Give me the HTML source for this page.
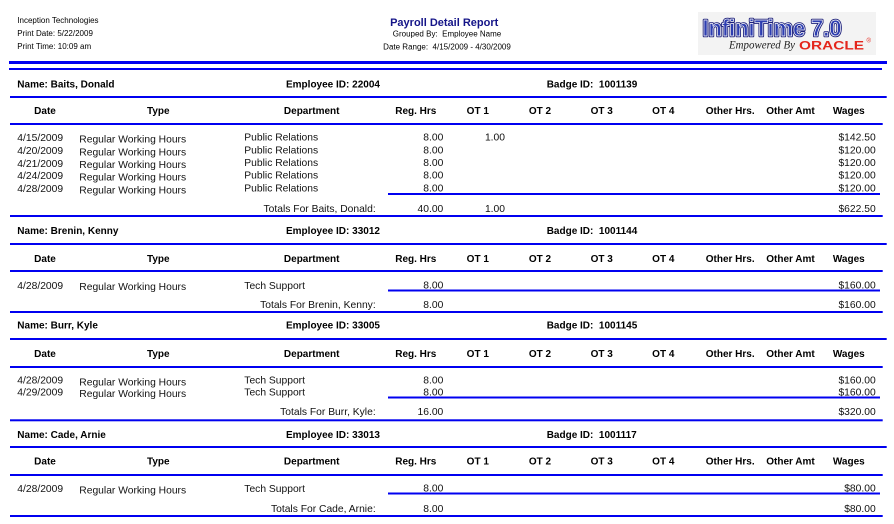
<!DOCTYPE html>
<html>
<head>
<meta charset="utf-8">
<style>
html,body{margin:0;padding:0;background:#fff;}
svg{display:block;}
text{white-space:pre;font-family:"Liberation Sans",Arial,sans-serif;fill:#000;}
.s{font-size:8px;}
.b{font-weight:bold;font-size:10px;}
.d{font-size:10.3px;fill:#111;}
.r{text-anchor:end;}
.c{text-anchor:middle;}
</style>
</head>
<body>
<svg width="894" height="524" viewBox="0 0 894 524" xmlns="http://www.w3.org/2000/svg">
<rect x="0" y="0" width="894" height="524" fill="#fff"/>

<!-- Header left -->
<text class="s" x="17.3" y="23">Inception Technologies</text>
<text class="s" x="17.3" y="36">Print Date: 5/22/2009</text>
<text class="s" x="17.3" y="49">Print Time: 10:09 am</text>

<!-- Header center -->
<text x="444.2" y="26" style="font-size:11px;font-weight:bold;fill:#141488;text-anchor:middle;">Payroll Detail Report</text>
<text class="s c" x="447" y="36.5">Grouped By:  Employee Name</text>
<text class="s c" x="447" y="49.5">Date Range:  4/15/2009 - 4/30/2009</text>

<!-- Logo -->
<rect x="698" y="12" width="178" height="43" fill="#f3f3f3"/>
<text x="702.5" y="36" textLength="139" lengthAdjust="spacingAndGlyphs" style="font-size:23px;font-weight:bold;fill:#1c1f7a;stroke:#1c1f7a;stroke-width:2.6;stroke-linejoin:round;">InfiniTime 7.0</text>
<text x="702.5" y="36" textLength="139" lengthAdjust="spacingAndGlyphs" style="font-size:23px;font-weight:bold;fill:#2d3db0;stroke:#ffffff;stroke-width:0.7;stroke-linejoin:round;">InfiniTime 7.0</text>
<text x="729" y="48.5" textLength="66" lengthAdjust="spacingAndGlyphs" style="font-family:'Liberation Serif',serif;font-style:italic;font-size:11.5px;fill:#222;">Empowered By</text>
<text x="799" y="49.5" textLength="65" lengthAdjust="spacingAndGlyphs" style="font-size:12px;font-weight:bold;fill:#e4261c;">ORACLE</text>
<text x="866.5" y="42.5" style="font-size:6px;fill:#e4261c;">®</text>

<!-- Top double line -->
<rect x="9" y="61" width="878" height="3" fill="#0000f0"/>
<rect x="9" y="68" width="873" height="2" fill="#0000f0"/>

<!-- ===== Baits ===== -->
<text class="b" x="17.3" y="87.3">Name: Baits, Donald</text>
<text class="b" x="286" y="87.3">Employee ID: 22004</text>
<text class="b" x="546.7" y="87.3">Badge ID:  1001139</text>
<rect x="10" y="96" width="876.7" height="2" fill="#0000f0"/>

<text class="b c" x="45" y="114">Date</text>
<text class="b c" x="158.3" y="114">Type</text>
<text class="b c" x="311.7" y="114">Department</text>
<text class="b c" x="415.8" y="114">Reg. Hrs</text>
<text class="b c" x="477.8" y="114">OT 1</text>
<text class="b c" x="540" y="114">OT 2</text>
<text class="b c" x="601.7" y="114">OT 3</text>
<text class="b c" x="663.3" y="114">OT 4</text>
<text class="b c" x="730.2" y="114">Other Hrs.</text>
<text class="b c" x="790.5" y="114">Other Amt</text>
<text class="b c" x="848.8" y="114">Wages</text>
<rect x="10" y="123" width="872.7" height="2" fill="#0000f0"/>

<text class="d" x="17.3" y="141.2">4/15/2009</text>
<text class="d" x="79.3" y="142.5">Regular Working Hours</text>
<text class="d" x="244.3" y="140.6">Public Relations</text>
<text class="d r" x="443.3" y="140.6">8.00</text>
<text class="d r" x="505" y="140.6">1.00</text>
<text class="d r" x="875.7" y="140.6">$142.50</text>

<text class="d" x="17.3" y="154.2">4/20/2009</text>
<text class="d" x="79.3" y="155.5">Regular Working Hours</text>
<text class="d" x="244.3" y="153.6">Public Relations</text>
<text class="d r" x="443.3" y="153.6">8.00</text>
<text class="d r" x="875.7" y="153.6">$120.00</text>

<text class="d" x="17.3" y="166.8">4/21/2009</text>
<text class="d" x="79.3" y="168.1">Regular Working Hours</text>
<text class="d" x="244.3" y="166.2">Public Relations</text>
<text class="d r" x="443.3" y="166.2">8.00</text>
<text class="d r" x="875.7" y="166.2">$120.00</text>

<text class="d" x="17.3" y="179.2">4/24/2009</text>
<text class="d" x="79.3" y="180.5">Regular Working Hours</text>
<text class="d" x="244.3" y="178.6">Public Relations</text>
<text class="d r" x="443.3" y="178.6">8.00</text>
<text class="d r" x="875.7" y="178.6">$120.00</text>

<text class="d" x="17.3" y="192.2">4/28/2009</text>
<text class="d" x="79.3" y="193.5">Regular Working Hours</text>
<text class="d" x="244.3" y="191.6">Public Relations</text>
<text class="d r" x="443.3" y="191.6">8.00</text>
<text class="d r" x="875.7" y="191.6">$120.00</text>
<rect x="388" y="193" width="492" height="2" fill="#0000f0"/>

<text class="d r" x="375.7" y="212.2">Totals For Baits, Donald:</text>
<text class="d r" x="443.3" y="212.2">40.00</text>
<text class="d r" x="505" y="212.2">1.00</text>
<text class="d r" x="875.7" y="212.2">$622.50</text>
<rect x="10" y="215" width="872.7" height="2" fill="#0000f0"/>

<!-- ===== Brenin ===== -->
<text class="b" x="17.3" y="233.9">Name: Brenin, Kenny</text>
<text class="b" x="286" y="233.9">Employee ID: 33012</text>
<text class="b" x="546.7" y="233.9">Badge ID:  1001144</text>
<rect x="10" y="243" width="876.7" height="2" fill="#0000f0"/>

<text class="b c" x="45" y="262">Date</text>
<text class="b c" x="158.3" y="262">Type</text>
<text class="b c" x="311.7" y="262">Department</text>
<text class="b c" x="415.8" y="262">Reg. Hrs</text>
<text class="b c" x="477.8" y="262">OT 1</text>
<text class="b c" x="540" y="262">OT 2</text>
<text class="b c" x="601.7" y="262">OT 3</text>
<text class="b c" x="663.3" y="262">OT 4</text>
<text class="b c" x="730.2" y="262">Other Hrs.</text>
<text class="b c" x="790.5" y="262">Other Amt</text>
<text class="b c" x="848.8" y="262">Wages</text>
<rect x="10" y="270" width="872.7" height="2" fill="#0000f0"/>

<text class="d" x="17.3" y="288.9">4/28/2009</text>
<text class="d" x="79.3" y="290.2">Regular Working Hours</text>
<text class="d" x="244.3" y="288.9">Tech Support</text>
<text class="d r" x="443.3" y="288.6">8.00</text>
<text class="d r" x="875.7" y="288.6">$160.00</text>
<rect x="388" y="289.5" width="492" height="2" fill="#0000f0"/>

<text class="d r" x="375.7" y="308.2">Totals For Brenin, Kenny:</text>
<text class="d r" x="443.3" y="307.8">8.00</text>
<text class="d r" x="875.7" y="307.8">$160.00</text>
<rect x="10" y="311" width="872.7" height="2" fill="#0000f0"/>

<!-- ===== Burr ===== -->
<text class="b" x="17.3" y="328.6">Name: Burr, Kyle</text>
<text class="b" x="286" y="328.6">Employee ID: 33005</text>
<text class="b" x="546.7" y="328.6">Badge ID:  1001145</text>
<rect x="10" y="338" width="876.7" height="2" fill="#0000f0"/>

<text class="b c" x="45" y="357">Date</text>
<text class="b c" x="158.3" y="357">Type</text>
<text class="b c" x="311.7" y="357">Department</text>
<text class="b c" x="415.8" y="357">Reg. Hrs</text>
<text class="b c" x="477.8" y="357">OT 1</text>
<text class="b c" x="540" y="357">OT 2</text>
<text class="b c" x="601.7" y="357">OT 3</text>
<text class="b c" x="663.3" y="357">OT 4</text>
<text class="b c" x="730.2" y="357">Other Hrs.</text>
<text class="b c" x="790.5" y="357">Other Amt</text>
<text class="b c" x="848.8" y="357">Wages</text>
<rect x="10" y="366" width="872.7" height="2" fill="#0000f0"/>

<text class="d" x="17.3" y="383.5">4/28/2009</text>
<text class="d" x="79.3" y="385.3">Regular Working Hours</text>
<text class="d" x="244.3" y="383.5">Tech Support</text>
<text class="d r" x="443.3" y="383.5">8.00</text>
<text class="d r" x="875.7" y="383.5">$160.00</text>

<text class="d" x="17.3" y="395.3">4/29/2009</text>
<text class="d" x="79.3" y="397.1">Regular Working Hours</text>
<text class="d" x="244.3" y="395.3">Tech Support</text>
<text class="d r" x="443.3" y="395.3">8.00</text>
<text class="d r" x="875.7" y="395.3">$160.00</text>
<rect x="388" y="396.5" width="492" height="2" fill="#0000f0"/>

<text class="d r" x="375.7" y="415.2">Totals For Burr, Kyle:</text>
<text class="d r" x="443.3" y="415.2">16.00</text>
<text class="d r" x="875.7" y="415.2">$320.00</text>
<rect x="10" y="419.3" width="872.7" height="2" fill="#0000f0"/>

<!-- ===== Cade ===== -->
<text class="b" x="17.3" y="437.9">Name: Cade, Arnie</text>
<text class="b" x="286" y="437.9">Employee ID: 33013</text>
<text class="b" x="546.7" y="437.9">Badge ID:  1001117</text>
<rect x="10" y="446" width="876.7" height="2" fill="#0000f0"/>

<text class="b c" x="45" y="464.6">Date</text>
<text class="b c" x="158.3" y="464.6">Type</text>
<text class="b c" x="311.7" y="464.6">Department</text>
<text class="b c" x="415.8" y="464.6">Reg. Hrs</text>
<text class="b c" x="477.8" y="464.6">OT 1</text>
<text class="b c" x="540" y="464.6">OT 2</text>
<text class="b c" x="601.7" y="464.6">OT 3</text>
<text class="b c" x="663.3" y="464.6">OT 4</text>
<text class="b c" x="730.2" y="464.6">Other Hrs.</text>
<text class="b c" x="790.5" y="464.6">Other Amt</text>
<text class="b c" x="848.8" y="464.6">Wages</text>
<rect x="10" y="474" width="872.7" height="2" fill="#0000f0"/>

<text class="d" x="17.3" y="491.9">4/28/2009</text>
<text class="d" x="79.3" y="493.3">Regular Working Hours</text>
<text class="d" x="244.3" y="491.9">Tech Support</text>
<text class="d r" x="443.3" y="491.5">8.00</text>
<text class="d r" x="875.7" y="491.5">$80.00</text>
<rect x="388" y="492.5" width="492" height="2" fill="#0000f0"/>

<text class="d r" x="375.7" y="511.9">Totals For Cade, Arnie:</text>
<text class="d r" x="443.3" y="511.9">8.00</text>
<text class="d r" x="875.7" y="511.9">$80.00</text>
<rect x="10" y="515" width="872.7" height="2" fill="#0000f0"/>
</svg>
</body>
</html>
